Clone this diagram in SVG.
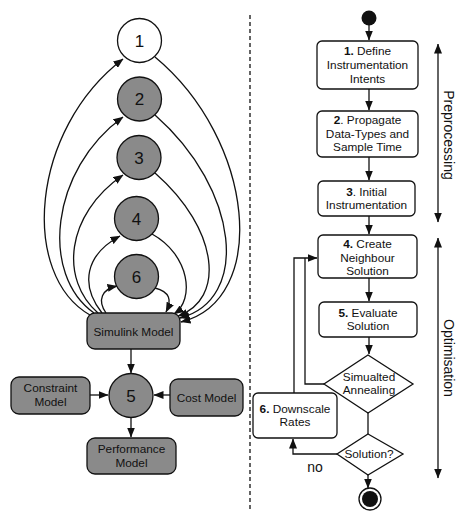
<svg xmlns="http://www.w3.org/2000/svg" width="474" height="521" viewBox="0 0 474 521">
<style>
text{font-family:"Liberation Sans",Arial,sans-serif;fill:#111;}
.t{font-size:11.8px;text-anchor:middle;}
.n{font-size:17px;text-anchor:middle;}
.lbl{font-size:14px;text-anchor:middle;}
.box{fill:#fff;stroke:#111;stroke-width:1.3;}
.gbox{fill:#8a8a8a;stroke:#111;stroke-width:1.3;}
.wc{fill:#fff;stroke:#111;stroke-width:1.3;}
.gc{fill:#8a8a8a;stroke:#111;stroke-width:1.3;}
.e{fill:none;stroke:#111;stroke-width:1.3;marker-end:url(#ah);}
.l{fill:none;stroke:#111;stroke-width:1.3;}
.d{fill:none;stroke:#111;stroke-width:1.3;marker-end:url(#ah);marker-start:url(#ahs);}
</style>
<defs>
<marker id="ah" markerUnits="userSpaceOnUse" markerWidth="10" markerHeight="8" refX="9.5" refY="4" orient="auto"><path d="M0,0 L10,4 L0,8 z" fill="#111"/></marker>
<marker id="ahs" markerUnits="userSpaceOnUse" markerWidth="10" markerHeight="8" refX="9.5" refY="4" orient="auto-start-reverse"><path d="M0,0 L10,4 L0,8 z" fill="#111"/></marker>
</defs>
<rect width="474" height="521" fill="#fff"/>

<g id="connectors">
<path class="e" d="M90 315 C20 275,30 130,123 59"/>
<path class="e" d="M94 313 C40 275,50 170,123 117"/>
<path class="e" d="M98 313 C60 280,65 215,123 175"/>
<path class="e" d="M102 313 C80 285,85 255,120 236"/>
<path class="e" d="M106 313 C97 300,102 289,117 286"/>
<path class="e" d="M155 57 C255 140,270 300,181 322"/>
<path class="e" d="M155 115 C240 190,250 300,180 318"/>
<path class="e" d="M155 173 C220 230,225 300,178 316"/>
<path class="e" d="M152 234 C190 255,195 300,174 314"/>
<path class="e" d="M155 288 C170 292,172 300,166 312"/>
<path class="e" d="M131 349 L131 373"/>
<path class="e" d="M131 417 L131 437"/>
<path class="e" d="M90 395 L108 395"/>
<path class="e" d="M170 395 L154 395"/>
<line x1="250" y1="15" x2="250" y2="510" stroke="#111" stroke-width="1.3" stroke-dasharray="4 3"/>
<path class="e" d="M369 25 L369 40"/>
<path class="e" d="M369 89 L369 110"/>
<path class="e" d="M369 157 L369 180"/>
<path class="e" d="M369 216 L369 234"/>
<path class="e" d="M369 278 L369 301"/>
<path class="e" d="M369 337 L369 354"/>
<path class="l" d="M368 413 L368 434"/>
<path class="e" d="M368 475 L368 488"/>
<path class="l" d="M324 384 L305 384 L305 258"/>
<path class="e" d="M294 393 L294 258 L317 258"/>
<path class="e" d="M337 454 L293 454 L293 439"/>
<path class="d" d="M438 44 L438 222"/>
<path class="d" d="M438 238 L438 478"/>
</g>

<g id="n1"><circle class="wc" cx="139.5" cy="40.5" r="22"/><text class="n" x="139.5" y="46.5">1</text></g>
<g id="n2"><circle class="gc" cx="139.5" cy="99" r="22"/><text class="n" x="139.5" y="105">2</text></g>
<g id="n3"><circle class="gc" cx="139" cy="157.5" r="22"/><text class="n" x="139" y="163.5">3</text></g>
<g id="n4"><circle class="gc" cx="136.5" cy="218.5" r="22"/><text class="n" x="136.5" y="224.5">4</text></g>
<g id="n6"><circle class="gc" cx="136.5" cy="276.5" r="22"/><text class="n" x="136.5" y="282.5">6</text></g>
<g id="simulink"><rect class="gbox" x="87" y="313" width="93" height="36" rx="8"/><text class="t" x="133.5" y="335.5">Simulink Model</text></g>
<g id="n5"><circle class="gc" cx="131" cy="395.5" r="22"/><text class="n" x="131" y="401.5">5</text></g>
<g id="constraint"><rect class="gbox" x="11" y="377" width="79" height="37" rx="8"/><text class="t" x="50.5" y="392">Constraint</text><text class="t" x="50.5" y="406">Model</text></g>
<g id="cost"><rect class="gbox" x="170" y="379" width="73" height="37" rx="8"/><text class="t" x="206.5" y="401.5">Cost Model</text></g>
<g id="performance"><rect class="gbox" x="87" y="438" width="89" height="36" rx="8"/><text class="t" x="131.5" y="453">Performance</text><text class="t" x="131.5" y="467">Model</text></g>

<g id="start"><circle cx="369" cy="18" r="7.5" fill="#111"/></g>
<g id="s1"><rect class="box" x="317" y="41" width="101" height="48" rx="5"/><text class="t" x="367.5" y="55"><tspan font-weight="bold">1.</tspan> Define</text><text class="t" x="367.5" y="69">Instrumentation</text><text class="t" x="367.5" y="83">Intents</text></g>
<g id="s2"><rect class="box" x="317" y="111" width="101" height="46" rx="5"/><text class="t" x="367.5" y="124"><tspan font-weight="bold">2</tspan>. Propagate</text><text class="t" x="367.5" y="138">Data-Types and</text><text class="t" x="367.5" y="151">Sample Time</text></g>
<g id="s3"><rect class="box" x="318" y="181" width="97" height="35" rx="5"/><text class="t" x="366.5" y="196"><tspan font-weight="bold">3</tspan>. Initial</text><text class="t" x="366.5" y="209">Instrumentation</text></g>
<g id="s4"><rect class="box" x="318" y="235" width="99" height="43" rx="5"/><text class="t" x="367.5" y="248"><tspan font-weight="bold">4.</tspan> Create</text><text class="t" x="367.5" y="261.5">Neighbour</text><text class="t" x="367.5" y="275">Solution</text></g>
<g id="s5"><rect class="box" x="319" y="302" width="98" height="35" rx="5"/><text class="t" x="368" y="317"><tspan font-weight="bold">5.</tspan> Evaluate</text><text class="t" x="368" y="330">Solution</text></g>
<g id="sa"><polygon class="box" points="368,355 413,384 368,413 324,384"/><text class="t" x="369" y="381">Simualted</text><text class="t" x="369" y="394">Annealing</text></g>
<g id="s6"><rect class="box" x="253" y="393" width="84" height="45" rx="5"/><text class="t" x="295" y="413"><tspan font-weight="bold">6.</tspan> Downscale</text><text class="t" x="295" y="426">Rates</text></g>
<g id="sol"><polygon class="box" points="368,434 403,454 368,475 337,454"/><text class="t" x="369" y="458">Solution?</text></g>
<g id="nolabel"><text class="lbl" x="315" y="472">no</text></g>
<g id="end"><circle cx="370" cy="499" r="11" fill="#fff" stroke="#111" stroke-width="1.3"/><circle cx="370" cy="499" r="8" fill="#111"/></g>
<g id="phases"><text class="lbl" transform="translate(444,135) rotate(90)">Preprocessing</text><text class="lbl" transform="translate(444,358) rotate(90)">Optimisation</text></g>
</svg>
